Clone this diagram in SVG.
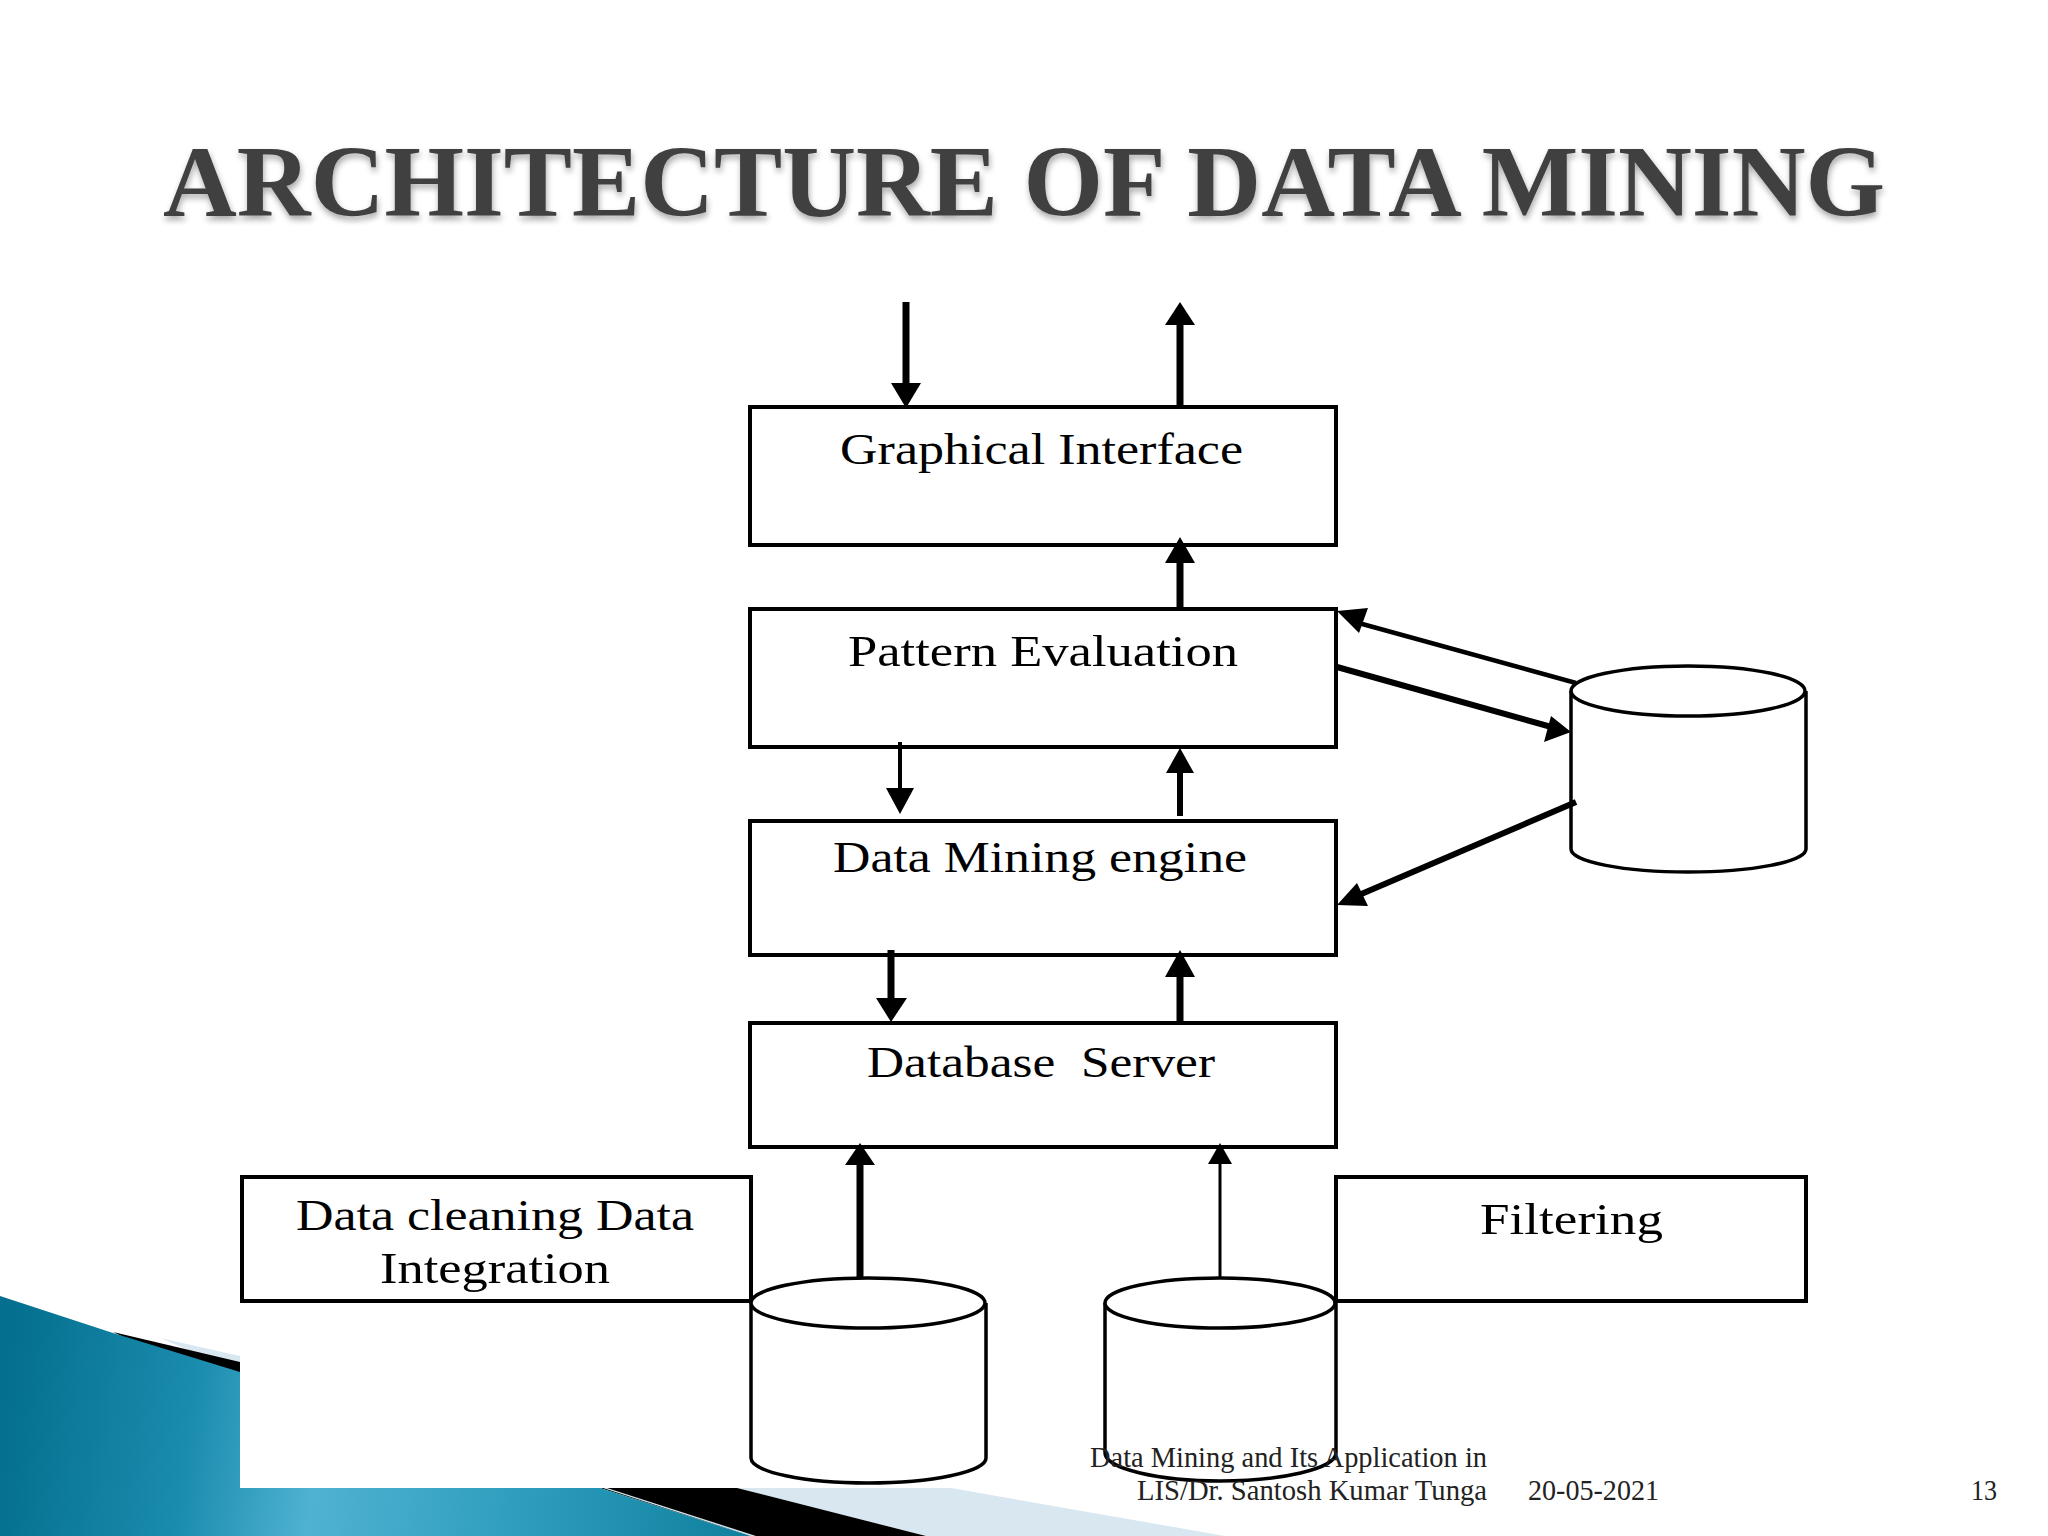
<svg xmlns="http://www.w3.org/2000/svg" width="2048" height="1536" viewBox="0 0 2048 1536">
<style>
.box{fill:#fff;stroke:#000;stroke-width:4}
.cyl{fill:#fff;stroke:#000;stroke-width:3.5}
.lbl{font-family:"Liberation Serif","Times New Roman",serif;font-size:44px;fill:#000}
.foot{font-family:"Liberation Serif","Times New Roman",serif;font-size:29px;fill:#222}
.ln{stroke:#000;fill:none}
.hd{fill:#000;stroke:none}
</style>
<defs>
<linearGradient id="teal" gradientUnits="userSpaceOnUse" x1="0" y1="1400" x2="760" y2="1500">
<stop offset="0" stop-color="#046f8e"/>
<stop offset="0.25" stop-color="#1a8cae"/>
<stop offset="0.42" stop-color="#50b2d2"/>
<stop offset="0.7" stop-color="#2d9dbd"/>
<stop offset="1" stop-color="#0d7f9c"/>
</linearGradient>
<filter id="sh" x="-5%" y="-20%" width="110%" height="140%">
<feGaussianBlur in="SourceAlpha" stdDeviation="3"/>
<feOffset dx="1" dy="4"/>
<feComponentTransfer><feFuncA type="linear" slope="0.35"/></feComponentTransfer>
<feMerge><feMergeNode/><feMergeNode in="SourceGraphic"/></feMerge>
</filter>
</defs>
<rect width="2048" height="1536" fill="#fff"/>
<g id="decoration">
<polygon points="737,1488 951,1488 1225,1536 926,1536" fill="#d8e7f0"/>
<polygon points="160,1338 240,1356 240,1372" fill="#d8e7f0"/>
<polygon points="113,1332 240,1362 240,1374 150,1350" fill="#000"/>
<polygon points="600,1488 737,1488 926,1536 751,1536" fill="#000"/>
<polygon points="0,1296 113,1333 240,1372 240,1488 600,1488 751,1536 0,1536" fill="url(#teal)"/>
<polygon points="603,1488 607,1488 756,1536 751,1536" fill="#cfe3ec"/>
</g>
<text id="title" x="163" y="216" font-family="'Liberation Serif','Times New Roman',serif" font-weight="700" font-size="101" fill="#404040" textLength="1722" lengthAdjust="spacingAndGlyphs" filter="url(#sh)">ARCHITECTURE OF DATA MINING</text>
<g id="node-graphical"><rect class="box" x="750" y="407" width="586" height="138"/><text class="lbl" x="840" y="464" textLength="403" lengthAdjust="spacingAndGlyphs">Graphical Interface</text></g>
<g id="node-pattern"><rect class="box" x="750" y="609" width="586" height="138"/><text class="lbl" x="848" y="666" textLength="390" lengthAdjust="spacingAndGlyphs">Pattern Evaluation</text></g>
<g id="node-engine"><rect class="box" x="750" y="821" width="586" height="134"/><text class="lbl" x="833" y="872" textLength="414" lengthAdjust="spacingAndGlyphs">Data Mining engine</text></g>
<g id="node-server"><rect class="box" x="750" y="1023" width="586" height="124"/><text class="lbl" x="867" y="1077" textLength="348" lengthAdjust="spacingAndGlyphs" xml:space="preserve">Database  Server</text></g>
<g id="node-cleaning"><rect class="box" x="242" y="1177" width="509" height="124"/><text class="lbl" x="296" y="1230" textLength="398" lengthAdjust="spacingAndGlyphs">Data cleaning Data</text><text class="lbl" x="380" y="1283" textLength="230" lengthAdjust="spacingAndGlyphs">Integration</text></g>
<g id="node-filtering"><rect class="box" x="1336" y="1177" width="470" height="124"/><text class="lbl" x="1480" y="1234" textLength="183" lengthAdjust="spacingAndGlyphs">Filtering</text></g>
<g id="db-right"><path class="cyl" d="M1571 691V849C1571 862 1625 872 1688 872S1806 862 1806 849V691"/><ellipse class="cyl" cx="1688" cy="691" rx="117" ry="25"/></g>
<g id="db-left"><path class="cyl" d="M751 1303V1458C751 1472 805 1483 868 1483S986 1472 986 1458V1303"/><ellipse class="cyl" cx="868" cy="1303" rx="117" ry="25"/></g>
<g id="db-middle"><path class="cyl" d="M1105 1303V1453C1105 1469 1160 1481 1220 1481S1336 1469 1336 1453V1303"/><ellipse class="cyl" cx="1220" cy="1303" rx="115" ry="25"/></g>
<g id="connectors">
<path class="ln" stroke-width="7" d="M906 302V390"/><polygon class="hd" points="891,383 921,383 906,408"/>
<path class="ln" stroke-width="7" d="M1180 406V320"/><polygon class="hd" points="1180,302 1165,325 1195,325"/>
<path class="ln" stroke-width="7" d="M1180 609V555"/><polygon class="hd" points="1180,537 1165,563 1195,563"/>
<path class="ln" stroke-width="4" d="M900 742V795"/><polygon class="hd" points="886,788 914,788 900,814"/>
<path class="ln" stroke-width="6" d="M1180 816V765"/><polygon class="hd" points="1180,748 1166,773 1194,773"/>
<path class="ln" stroke-width="7" d="M891 950V1000"/><polygon class="hd" points="876,998 907,998 891,1022"/>
<path class="ln" stroke-width="7" d="M1180 1023V970"/><polygon class="hd" points="1180,950 1165,977 1195,977"/>
<path class="ln" stroke-width="7" d="M860 1278V1160"/><polygon class="hd" points="860,1143 845,1165 875,1165"/>
<path class="ln" stroke-width="3" d="M1220 1278V1160"/><polygon class="hd" points="1220,1143 1208,1164 1232,1164"/>
<path class="ln" stroke-width="4.5" d="M1576 683L1355 622"/><polygon class="hd" points="1337,611 1368,608 1359,633"/>
<path class="ln" stroke-width="6" d="M1337 667L1555 728"/><polygon class="hd" points="1571,732 1551,716 1544,742"/>
<path class="ln" stroke-width="6" d="M1576 802L1352 898"/><polygon class="hd" points="1337,905 1357,883 1368,906"/>
</g>
<g id="footer">
<text class="foot" x="1487" y="1467" text-anchor="end" textLength="397" lengthAdjust="spacingAndGlyphs">Data Mining and Its Application in</text>
<text class="foot" x="1487" y="1500" text-anchor="end" textLength="350" lengthAdjust="spacingAndGlyphs">LIS/Dr. Santosh Kumar Tunga</text>
<text class="foot" x="1528" y="1500" textLength="131" lengthAdjust="spacingAndGlyphs">20-05-2021</text>
<text class="foot" x="1971" y="1500" textLength="26" lengthAdjust="spacingAndGlyphs">13</text>
</g>
</svg>
